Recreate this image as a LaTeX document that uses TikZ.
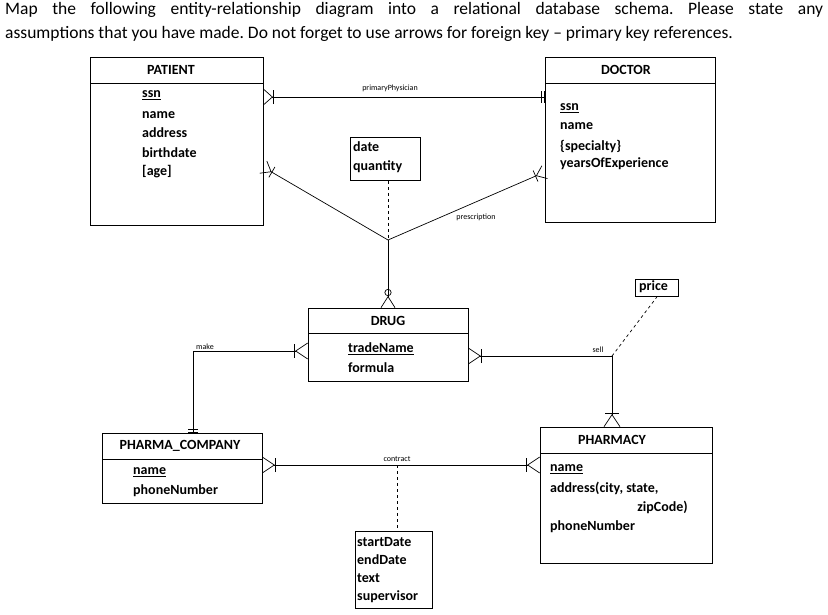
\documentclass[tikz,border=0pt]{standalone}
\usepackage{fontspec}
\setmainfont{Carlito}
\usetikzlibrary{arrows.meta,positioning}

\tikzset{
	ent/.style={rectangle, draw, line width=0.9pt, anchor=north west, inner sep=0pt},
	att/.style={anchor=west, inner sep=0pt, font=\fontsize{14}{15}\selectfont\bfseries},
	ttl/.style={inner sep=0pt, font=\fontsize{14}{15}\selectfont\bfseries},
	rel/.style={inner sep=0pt, font=\fontsize{8}{9}\selectfont},
	lnk/.style={line width=0.7pt},
}

\begin{document}
\frenchspacing
\begin{tikzpicture}[x=1pt,y=-1pt]
		\useasboundingbox (0,0) rectangle (828,614);
		
		\node (task) [anchor=north west, inner sep=0pt, text width=818pt, align=justify, font=\fontsize{17.5}{24}\selectfont] at (5,2) {Map the following entity-relationship diagram into a relational database schema. Please state any\linebreak assumptions that you have made. Do not forget to use arrows for foreign key -- primary key references.};
		
		% entities
		\node (patient) [ent, minimum width=173pt, minimum height=168pt] at (90,57) {};
		\draw (90,83) -- (263,83);
		\node (patientT) [ttl] at (171,70) {PATIENT};
		\node (pssn) [att] at (142,95) {\underline{ssn}};
		\node (pname) [att] at (142,115) {name};
		\node (paddr) [att] at (142,133) {address};
		\node (pbirth) [att] at (142,153) {birthdate};
		\node (page) [att] at (142,172) {[age]};
		
		\node (doctor) [ent, minimum width=170pt, minimum height=165pt] at (545,57) {};
		\draw (545,83) -- (715,83);
		\node (doctorT) [ttl] at (626,70) {DOCTOR};
		\node (dssn) [att] at (560,108) {\underline{ssn}};
		\node (dname) [att] at (560,126) {name};
		\node (dspec) [att] at (560,146) {\{specialty\}};
		\node (dyears) [att] at (560,164) {yearsOfExperience};
		
		\node (drug) [ent, minimum width=160pt, minimum height=73pt] at (308,308) {};
		\draw (308,333) -- (468,333);
		\node (drugT) [ttl] at (388,321) {DRUG};
		\node (dtrade) [att] at (348,349) {\underline{tradeName}};
		\node (dform) [att] at (348,368) {formula};
		
		\node (company) [ent, minimum width=160pt, minimum height=70pt] at (102,433) {};
		\draw (102,459) -- (262,459);
		\node (companyT) [ttl] at (180,446) {PHARMA\_COMPANY};
		\node (cname) [att] at (133,472) {\underline{name}};
		\node (cphone) [att] at (133,491) {phoneNumber};
		
		\node (pharmacy) [ent, minimum width=172pt, minimum height=136pt] at (540,427) {};
		\draw (540,453) -- (712,453);
		\node (pharmacyT) [ttl] at (612,440) {PHARMACY};
		\node (hname) [att] at (550,469) {\underline{name}};
		\node (haddr) [att] at (550,488) {address(city, state,};
		\node (hzip) [att, anchor=east] at (688,507) {zipCode)};
		\node (hphone) [att] at (550,527) {phoneNumber};
		
		% relationship attributes
		\node (presatt) [ent, minimum width=70pt, minimum height=43pt] at (350,137) {};
		\node (pdate) [att] at (353,147) {date};
		\node (pqty) [att] at (353,167) {quantity};
		\node (priceatt) [ent, minimum width=43pt, minimum height=17pt] at (635,279) {};
		\node (price) [att] at (639,287) {price};
		\node (conatt) [ent, minimum width=77pt, minimum height=77pt] at (355,531) {};
		\node (cstart) [att] at (357,542) {startDate};
		\node (cend) [att] at (357,560) {endDate};
		\node (ctext) [att] at (357,578) {text};
		\node (csup) [att] at (357,597) {supervisor};
		
		% relationships
		\coordinate (presj) at (388,240);
		\coordinate (makej) at (193,351);
		\coordinate (sellj) at (612,356);
		\coordinate (conj) at (397,465);
		
		\draw [lnk, {Straight Barb[reversed,length=9pt,width=16pt] Bar[width=14pt]}-{Bar[width=12pt,sep=3pt] Bar[width=12pt]}] (263,97) -- (545,97);
		\node (pp) [rel] at (390,88) {primaryPhysician};
		
		\draw [lnk, {Straight Barb[reversed,length=9pt,width=14pt] Bar[width=12pt]}-] (263,167) -- (presj);
		\draw [lnk, {Straight Barb[reversed,length=9pt,width=14pt] Bar[width=12pt]}-] (545,172) -- (presj);
		\draw [lnk, -{Circle[open,length=7pt] Straight Barb[reversed,length=11pt,width=14pt]}] (presj) -- (388,308);
		\draw [lnk, dashed] (presatt.south -| presj) -- (presj);
		\node (pres) [rel] at (476,217) {prescription};
		
		\draw [lnk, -{Bar[width=14pt] Straight Barb[reversed,length=12pt,width=16pt]}] (makej) -- (308,351);
		\draw [lnk, -{Bar[width=10pt,sep=3pt] Bar[width=10pt]}] (makej) -- (193,433);
		\node (make) [rel, anchor=south west] at (196,350) {make};
		
		\draw [lnk, {Straight Barb[reversed,length=12pt,width=16pt] Bar[width=14pt]}-] (468,356) -- (sellj);
		\draw [lnk, -{Bar[width=14pt] Straight Barb[reversed,length=12pt,width=16pt]}] (sellj) -- (612,427);
		\draw [lnk, dashed] (sellj) -- (priceatt.south);
		\node (sell) [rel] at (598,350) {sell};
		
		\draw [lnk, {Straight Barb[reversed,length=12pt,width=16pt] Bar[width=14pt]}-{Bar[width=14pt] Straight Barb[reversed,length=12pt,width=16pt]}] (262,465) -- (540,465);
		\draw [lnk, dashed] (conj) -- (conatt.north -| conj);
		\node (contract) [rel] at (397,459) {contract};
		
		\end{tikzpicture}
\end{document}
